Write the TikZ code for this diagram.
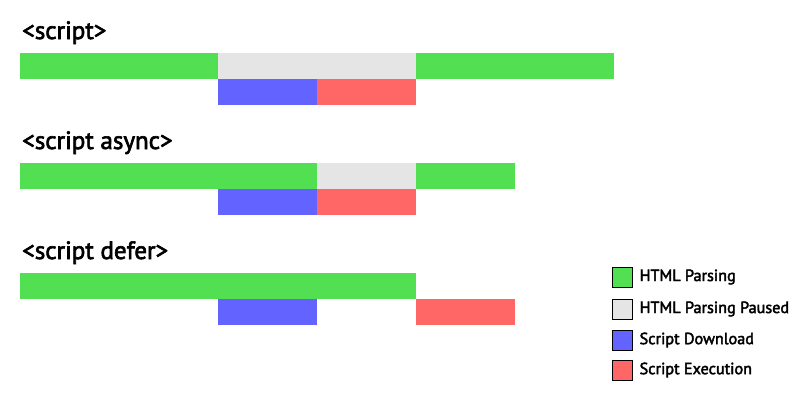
\documentclass[tikz,border=0pt]{standalone}
\usepackage{fontspec}
\setmainfont{PT Sans}
\newfontfamily\medfont{PT Sans}[FakeBold=2.5]
\usetikzlibrary{positioning}

\definecolor{parsegreen}{RGB}{82,224,82}
\definecolor{pausegray}{RGB}{229,229,229}
\definecolor{loadblue}{RGB}{99,99,255}
\definecolor{execred}{RGB}{255,102,102}

\tikzset{
  bar/.style={anchor=north west,inner sep=0pt,outer sep=0pt,minimum height=26pt,minimum width=#1*99pt},
  swatch/.style={draw=black,line width=0.8pt,inner sep=0pt,minimum width=20pt,minimum height=20pt},
  title/.style={anchor=base west,inner sep=0pt,font=\medfont\fontsize{25}{28}\selectfont},
  key/.style={right=7pt of #1,anchor=west,inner sep=0pt,font=\medfont\fontsize{16.2}{18}\selectfont}
}

\begin{document}
\begin{tikzpicture}[x=1pt,y=-1pt]
\useasboundingbox (0,0) rectangle (800,400);

% <script>
\node[title] (t1) at (22,39) {<script>};
\node[bar=2,fill=parsegreen] (a1) at (20,53) {};
\node[bar=2,fill=pausegray] (a2) at (a1.north east) {};
\node[bar=2,fill=parsegreen] (a3) at (a2.north east) {};
\node[bar=1,fill=loadblue] (a4) at (a2.south west) {};
\node[bar=1,fill=execred] (a5) at (a4.north east) {};

% <script async>
\node[title] (t2) at (22,149) {<script async>};
\node[bar=3,fill=parsegreen] (b1) at (20,163) {};
\node[bar=1,fill=pausegray] (b2) at (b1.north east) {};
\node[bar=1,fill=parsegreen] (b3) at (b2.north east) {};
\node[bar=1,fill=execred] (b5) at (b2.south west) {};
\node[bar=1,fill=loadblue,anchor=north east] (b4) at (b5.north west) {};

% <script defer>
\node[title] (t3) at (22,259) {<script defer>};
\node[bar=4,fill=parsegreen] (c1) at (20,273) {};
\node[bar=1,fill=loadblue] (c4) at (218,299) {};
\node[bar=1,fill=execred] (c5) at (c1.south east) {};

% legend
\node[swatch,fill=parsegreen] (k1) at (622,277) {};
\node[swatch,fill=pausegray]  (k2) at (622,309) {};
\node[swatch,fill=loadblue]   (k3) at (622,340) {};
\node[swatch,fill=execred]    (k4) at (622,370) {};
\node[key=k1] {HTML Parsing};
\node[key=k2] {HTML Parsing Paused};
\node[key=k3] {Script Download};
\node[key=k4] {Script Execution};
\end{tikzpicture}
\end{document}
